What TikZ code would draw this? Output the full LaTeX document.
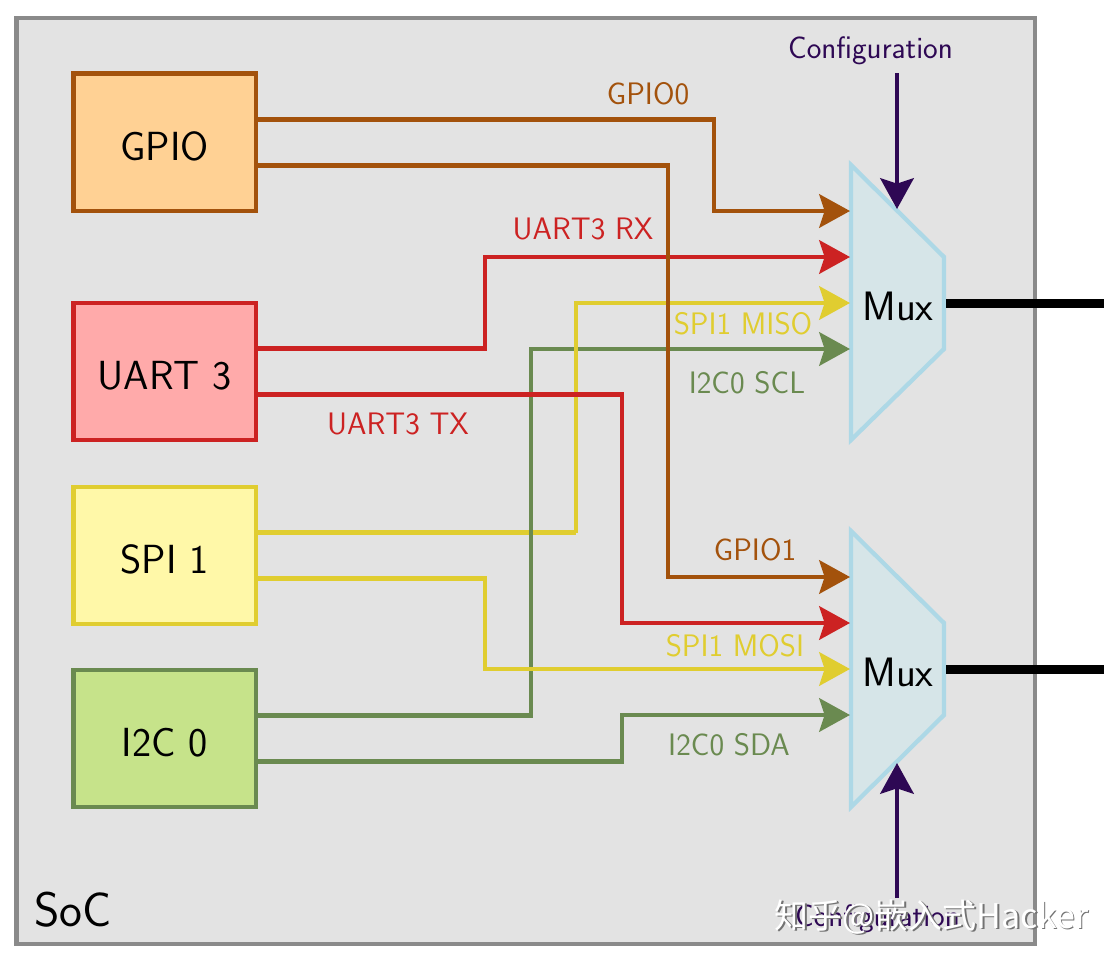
\documentclass[tikz,border=0pt]{standalone}
\usepackage{fontspec}
\usetikzlibrary{arrows.meta,calc}
\newfontfamily\cjk{Noto Sans CJK SC}
\definecolor{socline}{HTML}{8A8A8A}
\definecolor{socfill}{HTML}{E3E3E3}
\definecolor{gpioc}{HTML}{A3520C}
\definecolor{gpiof}{HTML}{FFD194}
\definecolor{uartc}{HTML}{CC2222}
\definecolor{uartf}{HTML}{FFAAAA}
\definecolor{spic}{HTML}{E0CD30}
\definecolor{spif}{HTML}{FFF8A8}
\definecolor{iicc}{HTML}{6A8A50}
\definecolor{iicf}{HTML}{C6E38A}
\definecolor{muxc}{HTML}{ADD8E6}
\definecolor{muxf}{HTML}{D6E5E8}
\definecolor{cfgc}{HTML}{2E0854}
\tikzset{
  block/.style={draw,line width=3.4pt,minimum width=137pt,minimum height=103pt,inner sep=0pt,outer sep=0pt,text height=27pt,text depth=0pt,font=\sffamily\fontsize{30.5}{30.5}\selectfont},
  wire/.style={line width=3.4pt,line cap=square},
  link/.style={line width=3.4pt,-{Stealth[length=23pt,width=25pt,inset=4pt]}},
  sig/.style={font=\sffamily\fontsize{23.3}{23.3}\selectfont,inner sep=0pt},
  muxbody/.style={draw=muxc,fill=muxf,line width=3.2pt,line join=miter},
  muxlabel/.style={font=\sffamily\fontsize{30.8}{30.8}\selectfont,inner sep=0pt},
  outbus/.style={line width=6.75pt,black},
  wmark/.style={inner sep=0pt,font=\cjk\fontsize{25.5}{25.5}\selectfont},
}
\begin{document}
\begin{tikzpicture}[x=0.75pt,y=-0.75pt]
\useasboundingbox (0,0) rectangle (1118,964);
% SoC
\draw[draw=socline,fill=socfill,line width=3.3pt] (16.5,18) rectangle (1035,944);
\node[font=\sffamily\fontsize{36.4}{36.4}\selectfont,inner sep=0pt] (soc) at (73,910) {SoC};

% blocks
\node[block,draw=gpioc,fill=gpiof] (gpio) at (164.75,142.4) {GPIO};
\node[block,draw=uartc,fill=uartf] (uart) at (164.75,371.5) {UART 3};
\node[block,draw=spic,fill=spif] (spi) at (164.75,555.5) {SPI 1};
\node[block,draw=iicc,fill=iicf] (iic) at (164.75,738.5) {I2C 0};

\foreach \b in {gpio,uart,spi,iic} {
  \coordinate (\b a) at ($(\b.north east)!1/3!(\b.south east)$);
  \coordinate (\b b) at ($(\b.north east)!2/3!(\b.south east)$);
}

% muxes
\draw[muxbody] (851,165) -- (944,257) -- (944,349) -- (851,440) -- cycle;
\draw[muxbody] (851,531) -- (944,623) -- (944,715) -- (851,807) -- cycle;
\node[muxlabel] (mux1) at (898,306.5) {Mux};
\node[muxlabel] (mux2) at (898,672.5) {Mux};

% mux inputs
\coordinate (m1a) at (850,211);
\coordinate (m1b) at (850,257);
\coordinate (m1c) at (850,303);
\coordinate (m1d) at (850,349);
\coordinate (m2a) at (850,577);
\coordinate (m2b) at (850,623);
\coordinate (m2c) at (850,669);
\coordinate (m2d) at (850,715);
\coordinate (k1) at (spia -| m1c);
\coordinate (k1) at ($(k1)+(-274,0)$);

% signals, in the order of the crossings
\draw[wire,spic] (spia) -- (k1);
\draw[link,iicc] (iica) -| (531,349) -- (m1d);
\draw[link,iicc] (iicb) -| (622,715) -- (m2d);
\draw[link,spic,line cap=square] (k1) |- (m1c);
\draw[link,spic] (spib) -| (485,669) -- (m2c);
\draw[link,uartc] (uarta) -| (485,257) -- (m1b);
\draw[link,uartc] (uartb) -| (622,623) -- (m2b);
\draw[link,gpioc] (gpioa) -| (714,211) -- (m1a);
\draw[link,gpioc] (gpiob) -| (668,577) -- (m2a);

% signal names
\node[sig,text=gpioc] (l1) at (648,94) {GPIO0};
\node[sig,text=uartc] (l2) at (583,229) {UART3 RX};
\node[sig,text=spic] (l3) at (743,324) {SPI1 MISO};
\node[sig,text=iicc] (l4) at (747,383) {I2C0 SCL};
\node[sig,text=uartc] (l5) at (398,424) {UART3 TX};
\node[sig,text=gpioc] (l6) at (755,550) {GPIO1};
\node[sig,text=spic] (l7) at (735,646) {SPI1 MOSI};
\node[sig,text=iicc] (l8) at (729,745) {I2C0 SDA};

% outputs
\coordinate (o1s) at (946,303);
\coordinate (o1) at (1104,303);
\coordinate (o2s) at (946,669);
\coordinate (o2) at (1104,669);
\draw[outbus] (o1s) -- (o1);
\draw[outbus] (o2s) -- (o2);

% configuration
\node[sig,text=cfgc] (c1) at (870.5,50.5) {Configuration};
\node[sig,text=cfgc] (c2) at (877.5,919) {Configuration};
\coordinate (c1s) at (897,73);
\coordinate (c1e) at (897,209);
\coordinate (c2s) at (897,898);
\coordinate (c2e) at (897,763);
\draw[link,cfgc] (c1s) -- (c1e);
\draw[link,cfgc] (c2s) -- (c2e);

% watermark
\node[wmark,text=black!55] (w0) at (933,918.5) {知乎@嵌入式Hacker};
\node[wmark,text=white] (w) at (931.5,917) {知乎@嵌入式Hacker};
\end{tikzpicture}
\end{document}
